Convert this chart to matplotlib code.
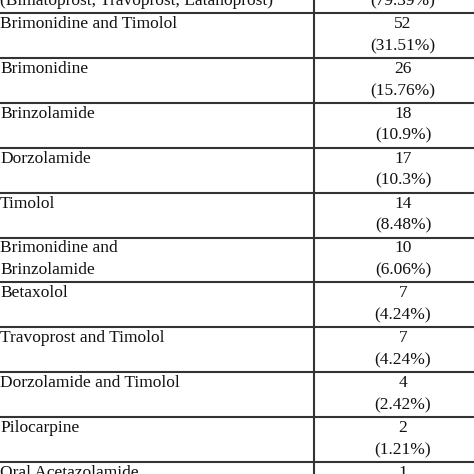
import matplotlib
matplotlib.use("Agg")
import matplotlib.pyplot as plt

drugs = ["(Bimatoprost, Travoprost, Latanoprost)", "Brimonidine and Timolol", "Brimonidine",
         "Brinzolamide", "Dorzolamide", "Timolol", "Brimonidine and\nBrinzolamide", "Betaxolol",
         "Travoprost and Timolol", "Dorzolamide and Timolol", "Pilocarpine", "Oral Acetazolamide"]
counts = ["", "52", "26", "18", "17", "14", "10", "7", "7", "4", "2", "1"]
percents = ["(79.39%)", "(31.51%)", "(15.76%)", "(10.9%)", "(10.3%)", "(8.48%)", "(6.06%)",
            "(4.24%)", "(4.24%)", "(2.42%)", "(1.21%)", ""]

fig = plt.figure(figsize=(4.74, 4.74), dpi=100)
ax = fig.add_axes([0, 0, 1, 1])
ax.set_xlim(0, 474)
ax.set_ylim(474, 0)
ax.axis("off")

row_h = 44.9
first_top = 13 - row_h
font = dict(family="Liberation Serif", fontsize=12.5, color="#111111")
for i, (d, c, p) in enumerate(zip(drugs, counts, percents)):
    top = first_top + i * row_h
    lines = d.split("\n")
    if i == 0:
        ax.text(0, top + 33, d, va="center", ha="left", **font)
    else:
        for j, ln in enumerate(lines):
            ax.text(0, top + 11 + 22 * j, ln, va="center", ha="left", **font)
    ax.text(403, top + 11, c, va="center", ha="center", **font)
    ax.text(403, top + 33, p, va="center", ha="center", **font)
    if i > 0:
        ax.plot([0, 474], [top, top], color="#333333", lw=1.5)
ax.plot([314, 314], [0, 474], color="#333333", lw=1.5)
fig.savefig("out.png", dpi=100)
